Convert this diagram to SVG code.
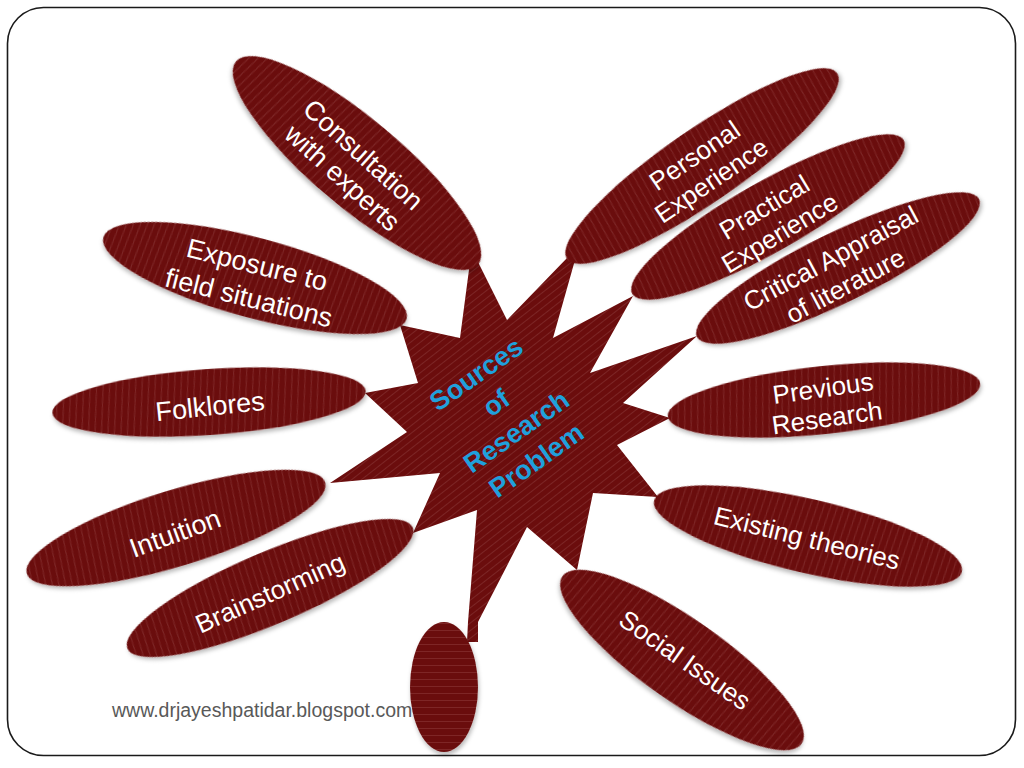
<svg xmlns="http://www.w3.org/2000/svg" width="1024" height="768" viewBox="0 0 1024 768">
<style>
.oval{fill:url(#vs);filter:url(#sh);}
.lbl{font-family:"Liberation Sans",Arial,sans-serif;font-size:26px;fill:#ffffff;text-anchor:middle;}
.big{font-size:27px;}
.hub{font-family:"Liberation Sans",Arial,sans-serif;font-size:27px;font-weight:bold;fill:#1fa0dc;text-anchor:middle;}
.foot{font-family:"Liberation Sans",Arial,sans-serif;font-size:19.5px;fill:#595959;}
</style>
<defs>
<pattern id="vs" width="6.5" height="12" patternUnits="userSpaceOnUse" patternTransform="rotate(6)">
<rect width="6.5" height="12" fill="#6b0d0d"/>
<rect width="1" height="12" fill="#7e2828"/>
</pattern>
<pattern id="ds" width="6" height="12" patternUnits="userSpaceOnUse" patternTransform="rotate(52)">
<rect width="6" height="12" fill="#6b0d0d"/>
<rect width="0.9" height="12" fill="#7e2828"/>
</pattern>
<pattern id="hs" width="12" height="7" patternUnits="userSpaceOnUse">
<rect width="12" height="7" fill="#6b0d0d"/>
<rect width="12" height="1" fill="#7e2828"/>
</pattern>
<filter id="sh" x="-20%" y="-30%" width="140%" height="170%">
<feDropShadow dx="1" dy="3" stdDeviation="2" flood-color="#000" flood-opacity="0.28"/>
</filter>
</defs>
<rect width="1024" height="768" fill="#ffffff"/>
<rect x="7.5" y="7.5" width="1008" height="748" rx="36" ry="36" fill="none" stroke="#1a1a1a" stroke-width="1.6"/>

<g id="connectors">
<polygon fill="url(#ds)" points="470,262 478,262 507,320 567,258 575,260 553,338 633,296 590,373 697,336 623,403 670,418 617,445 658,497 593,493 577,570 527,527 478,622 478,642 467,642 468,622 477,510 413,533 440,473 330,483 407,432 365,393 418,383 400,325 460,338"/>
</g>

<text class="foot" x="112" y="717">www.drjayeshpatidar.blogspot.com</text>

<g id="n-consultation">
<ellipse class="oval" cx="357" cy="163" rx="158" ry="44" transform="rotate(40 357 163)"/>
<text class="lbl big" transform="translate(353,166) rotate(42)"><tspan x="0" y="-6">Consultation</tspan><tspan x="0" y="25">with experts</tspan></text>
</g>
<g id="n-exposure">
<ellipse class="oval" cx="255" cy="278" rx="157" ry="40" transform="rotate(15 255 278)"/>
<text class="lbl big" transform="translate(253,281) rotate(14)"><tspan x="0" y="-7.5">Exposure to</tspan><tspan x="0" y="26.5">field situations</tspan></text>
</g>
<g id="n-folklores">
<ellipse class="oval" cx="209" cy="402" rx="157" ry="33" transform="rotate(-4 209 402)"/>
<text class="lbl big" transform="translate(210,406) rotate(-6)" y="9.5">Folklores</text>
</g>
<g id="n-intuition">
<ellipse class="oval" cx="176" cy="528" rx="156" ry="38" transform="rotate(-17 176 528)"/>
<text class="lbl big" transform="translate(175,533) rotate(-20)" y="9.5">Intuition</text>
</g>
<g id="n-brainstorming">
<ellipse class="oval" cx="270" cy="588" rx="155" ry="36" transform="rotate(-23 270 588)"/>
<text class="lbl" transform="translate(270,593) rotate(-24)" y="9">Brainstorming</text>
</g>
<g id="n-personal">
<ellipse class="oval" cx="702" cy="166" rx="164" ry="37" transform="rotate(-34.5 702 166)"/>
<text class="lbl" transform="translate(703,168) rotate(-34)"><tspan x="0" y="-6">Personal</tspan><tspan x="0" y="24">Experience</tspan></text>
</g>
<g id="n-practical">
<ellipse class="oval" cx="768" cy="217" rx="156" ry="35" transform="rotate(-29.5 768 217)"/>
<text class="lbl" transform="translate(772,220) rotate(-31)"><tspan x="0" y="-6">Practical</tspan><tspan x="0" y="24">Experience</tspan></text>
</g>
<g id="n-critical">
<ellipse class="oval" cx="838" cy="268" rx="157" ry="35" transform="rotate(-26 838 268)"/>
<text class="lbl" transform="translate(838,272) rotate(-28)"><tspan x="0" y="-6.5">Critical Appraisal</tspan><tspan x="0" y="24.5">of literature</tspan></text>
</g>
<g id="n-previous">
<ellipse class="oval" cx="824" cy="400" rx="157" ry="34" transform="rotate(-6 824 400)"/>
<text class="lbl" transform="translate(825,403) rotate(-8)"><tspan x="0" y="-6">Previous</tspan><tspan x="0" y="24">Research</tspan></text>
</g>
<g id="n-existing">
<ellipse class="oval" cx="808" cy="536" rx="158" ry="37" transform="rotate(13 808 536)"/>
<text class="lbl" transform="translate(807,538) rotate(14)" y="9">Existing theories</text>
</g>
<g id="n-social">
<ellipse class="oval" cx="682" cy="660" rx="146" ry="41" transform="rotate(35 682 660)"/>
<text class="lbl" transform="translate(685,660) rotate(35)" y="9">Social Issues</text>
</g>
<g id="n-bottom">
<ellipse cx="444" cy="687" rx="34" ry="65" fill="url(#hs)" filter="url(#sh)"/>
</g>

<g id="hub">
<text class="hub" transform="translate(506,417) rotate(-35)"><tspan x="0" y="-43">Sources</tspan><tspan x="0" y="-8">of</tspan><tspan x="0" y="27">Research</tspan><tspan x="0" y="62">Problem</tspan></text>
</g>
</svg>
